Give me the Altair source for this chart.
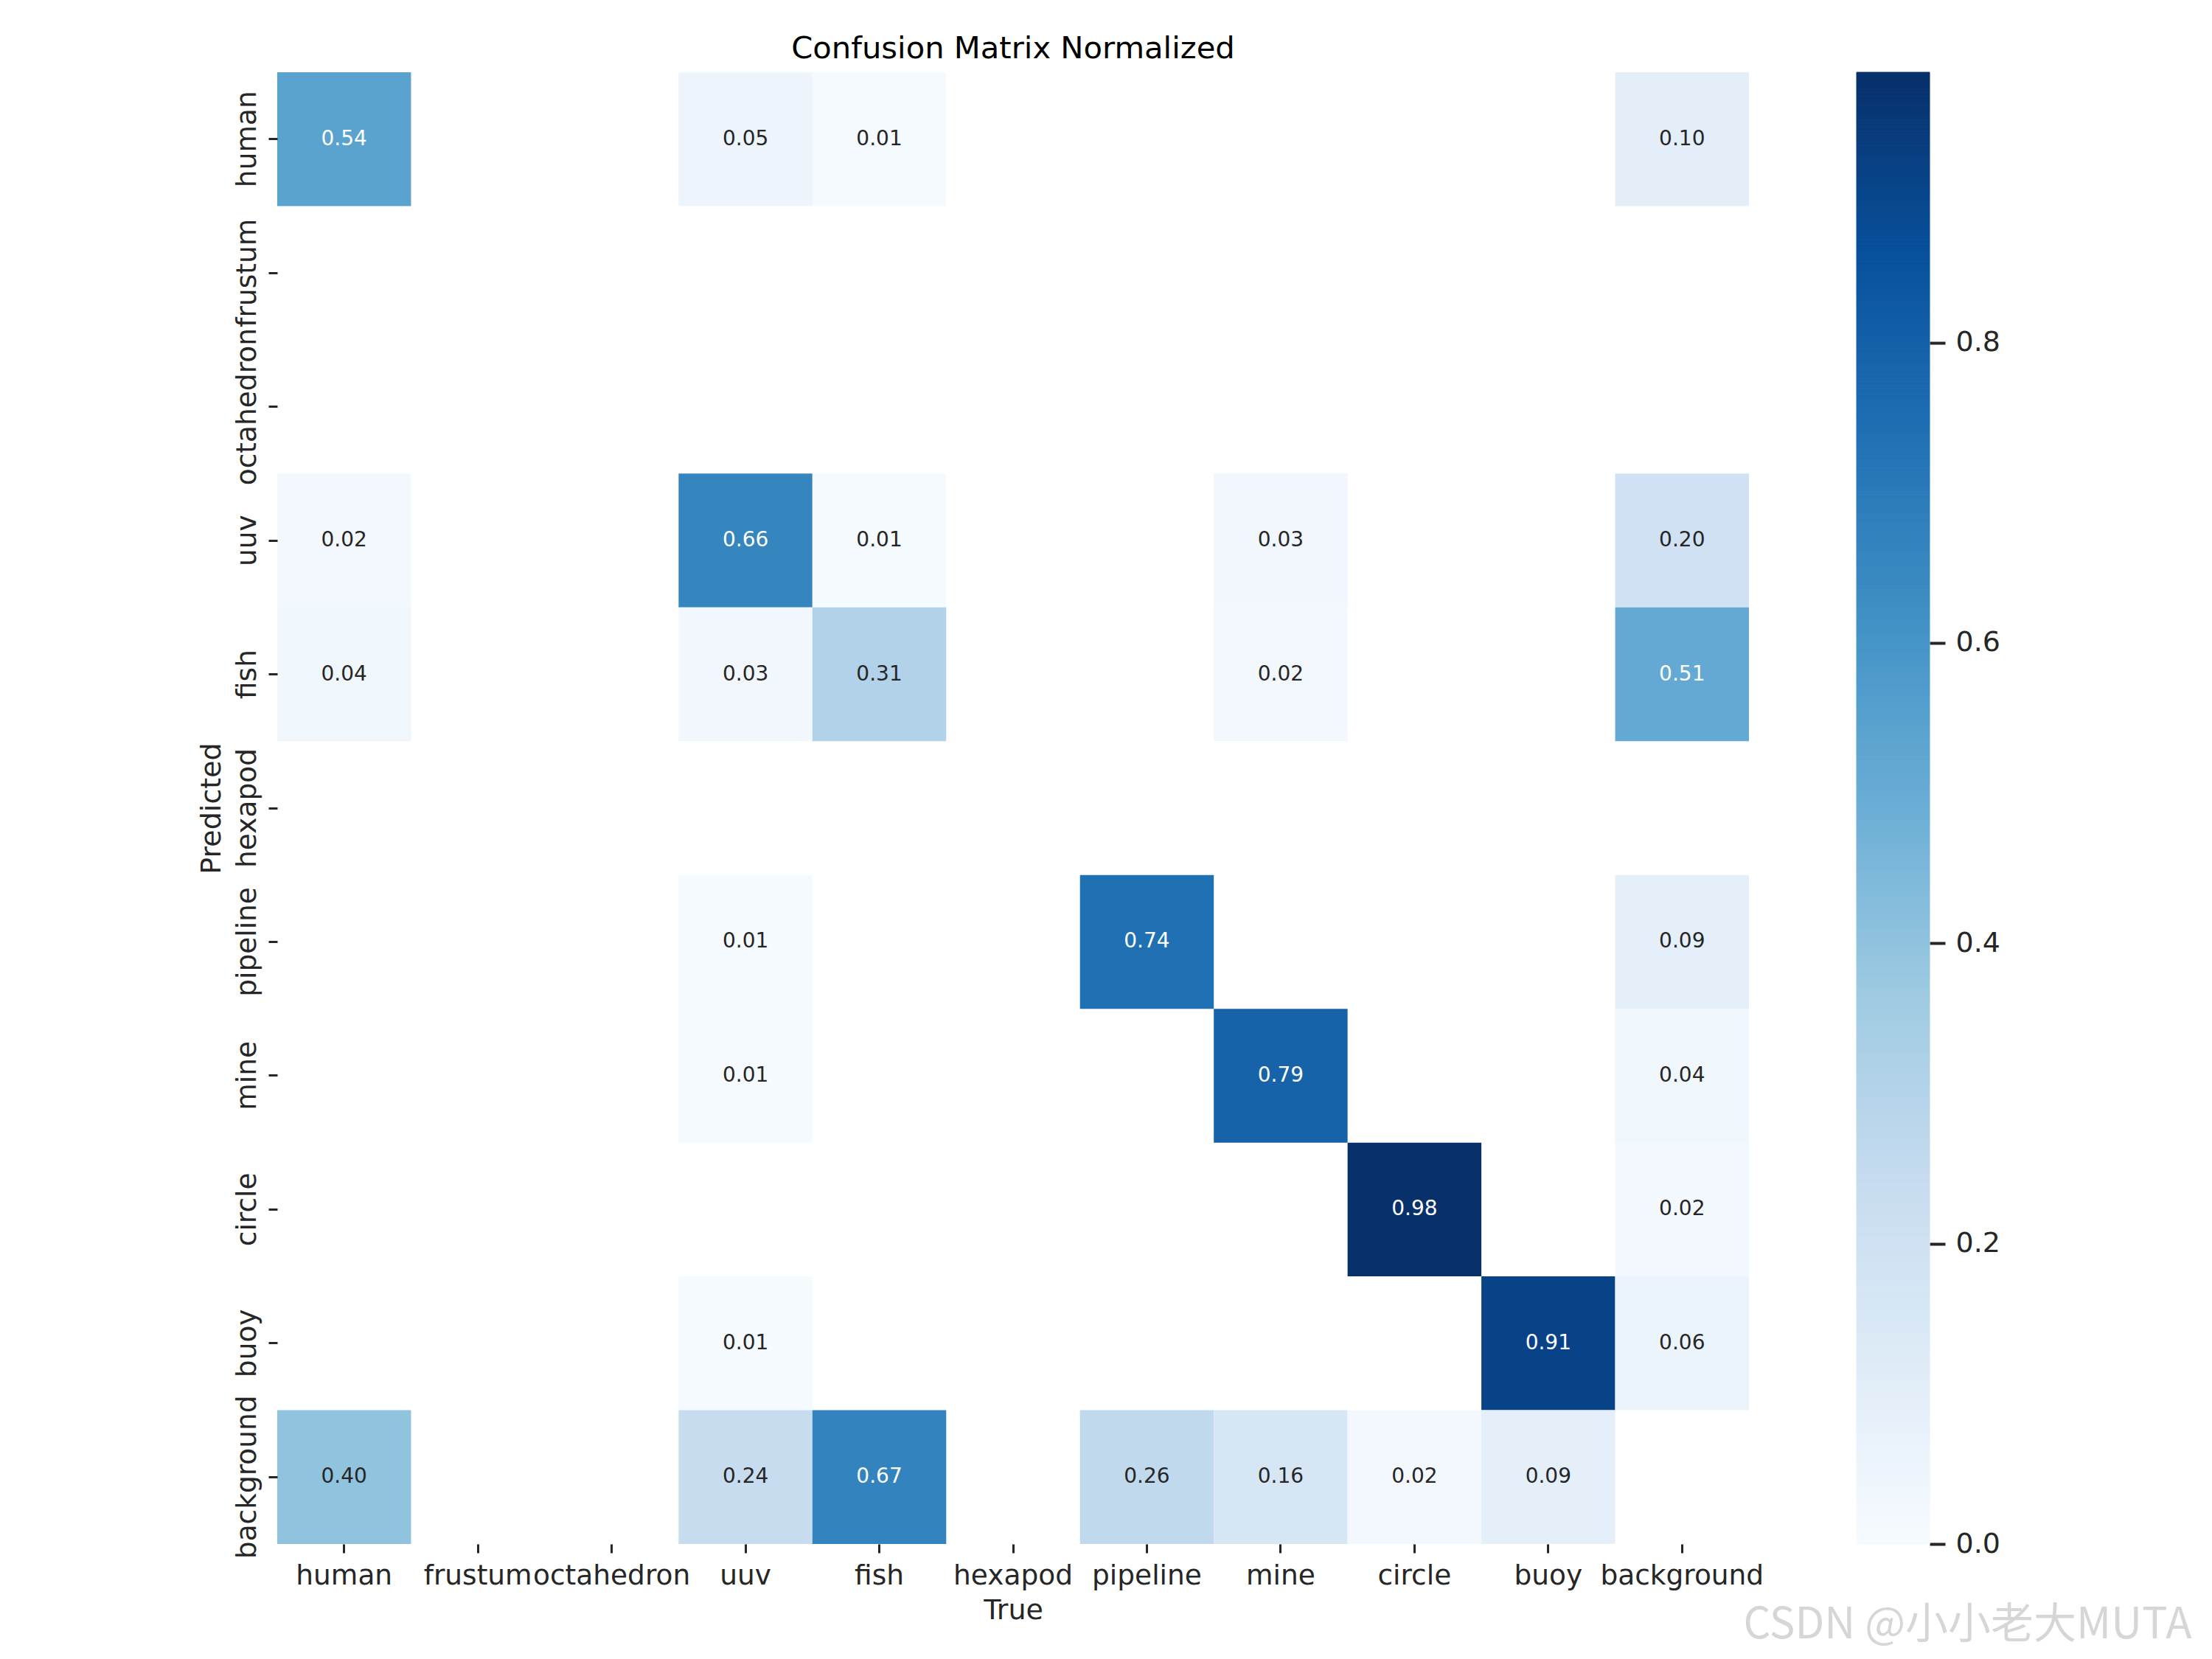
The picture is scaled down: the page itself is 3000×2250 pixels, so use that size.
import altair as alt
import numpy as np
import pandas as pd

# Class order (rows = predicted, columns = true)
classes = ["human", "frustum", "octahedron", "uuv", "fish", "hexapod",
           "pipeline", "mine", "circle", "buoy", "background"]

# Normalized confusion matrix; None = cell left blank
row_human      = [0.54, None, None, 0.05, 0.01, None, None, None, None, None, 0.10]
row_frustum    = [None, None, None, None, None, None, None, None, None, None, None]
row_octahedron = [None, None, None, None, None, None, None, None, None, None, None]
row_uuv        = [0.02, None, None, 0.66, 0.01, None, None, 0.03, None, None, 0.20]
row_fish       = [0.04, None, None, 0.03, 0.31, None, None, 0.02, None, None, 0.51]
row_hexapod    = [None, None, None, None, None, None, None, None, None, None, None]
row_pipeline   = [None, None, None, 0.01, None, None, 0.74, None, None, None, 0.09]
row_mine       = [None, None, None, 0.01, None, None, None, 0.79, None, None, 0.04]
row_circle     = [None, None, None, None, None, None, None, None, 0.98, None, 0.02]
row_buoy       = [None, None, None, 0.01, None, None, None, None, None, 0.91, 0.06]
row_background = [0.40, None, None, 0.24, 0.67, None, 0.26, 0.16, 0.02, 0.09, None]

# Colorbar tick values
cbar_ticks = [0.0, 0.2, 0.4, 0.6, 0.8]

# matplotlib "Blues" anchor colours
blues = ["#f7fbff", "#deebf7", "#c6dbef", "#9ecae1", "#6baed6",
         "#4292c6", "#2171b5", "#08519c", "#08306b"]

rows = [row_human, row_frustum, row_octahedron, row_uuv, row_fish, row_hexapod,
        row_pipeline, row_mine, row_circle, row_buoy, row_background]

records = []
for pred, row in zip(classes, rows):
    for true, v in zip(classes, row):
        if v is not None:
            records.append({"pred": pred, "true": true, "value": v,
                            "label": f"{v:.2f}"})
cells = pd.DataFrame(records)

vmax = float(cells["value"].max())
color_domain = [vmax * i / (len(blues) - 1) for i in range(len(blues))]
color_scale = alt.Scale(domain=color_domain, range=blues, type="linear",
                        interpolate="rgb", clamp=True)

FONT = "DejaVu Sans"
INK = "#262626"
SIDE = 1996
NO_FRAME = alt.ViewBackground(stroke="transparent", strokeWidth=0)

x_enc = alt.X("true:N", sort=classes,
              scale=alt.Scale(domain=classes, paddingInner=0, paddingOuter=0),
              axis=alt.Axis(title="True", labelAngle=0, domain=False, grid=False,
                            ticks=True, tickSize=12, tickWidth=3, tickColor=INK,
                            labelFont=FONT, labelFontSize=37.5, labelColor=INK,
                            labelPadding=12, labelOverlap=False, labelFlush=False,
                            labelLimit=0,
                            titleFont=FONT, titleFontSize=38, titleColor=INK,
                            titleFontWeight="normal", titlePadding=10))
y_enc = alt.Y("pred:N", sort=classes,
              scale=alt.Scale(domain=classes, paddingInner=0, paddingOuter=0),
              axis=alt.Axis(title="Predicted", labelAngle=270, labelAlign="center",
                            labelBaseline="bottom", domain=False, grid=False,
                            ticks=True, tickSize=12, tickWidth=3, tickColor=INK,
                            labelFont=FONT, labelFontSize=37.5, labelColor=INK,
                            labelPadding=10, labelOverlap=False, labelFlush=False,
                            labelLimit=0,
                            titleFont=FONT, titleFontSize=38, titleColor=INK,
                            titleFontWeight="normal", titlePadding=10))

base = alt.Chart(cells).encode(x=x_enc, y=y_enc)

heat = base.mark_rect(strokeWidth=0).encode(
    color=alt.Color("value:Q", scale=color_scale, legend=None)
)

annot = base.mark_text(font=FONT, fontSize=28, baseline="middle", align="center").encode(
    text="label:N",
    color=alt.condition(alt.datum.value > 0.45, alt.value("white"), alt.value(INK)),
)

matrix = alt.layer(heat, annot).properties(
    width=SIDE, height=SIDE, view=NO_FRAME,
    title=alt.TitleParams("Confusion Matrix Normalized", font=FONT, fontSize=41.7,
                          fontWeight="normal", color="black", offset=10,
                          anchor="middle"),
)

# Colorbar: thin stacked strips along the colour scale
steps = np.linspace(0.0, vmax, 401)
strips = pd.DataFrame({"v0": steps[:-1], "v1": steps[1:]})
strips["mid"] = (strips["v0"] + strips["v1"]) / 2

cbar = alt.Chart(strips).mark_rect(strokeWidth=1).encode(
    y=alt.Y("v0:Q", scale=alt.Scale(domain=[0, vmax], nice=False, zero=True),
            axis=alt.Axis(orient="right", values=cbar_ticks, format=".1f",
                          title=None, domain=False, grid=False, ticks=True,
                          tickSize=21, tickWidth=4, tickColor=INK,
                          labelFont=FONT, labelFontSize=38, labelColor=INK,
                          labelPadding=14, labelFlush=False, labelOverlap=False)),
    y2="v1:Q",
    color=alt.Color("mid:Q", scale=color_scale, legend=None),
    stroke=alt.Color("mid:Q", scale=color_scale, legend=None),
).properties(width=99, height=SIDE, view=NO_FRAME)

chart = alt.hconcat(matrix, cbar, spacing=146, bounds="flush").properties(
    padding={"left": 268, "top": 46, "right": 5, "bottom": 5},
    title=alt.TitleParams("CSDN @小小老大MUTA", orient="bottom", anchor="end",
                          font="Noto Sans CJK SC", fontSize=58, fontWeight="normal",
                          color="#d6d6d6", dx=260, offset=-28),
).configure_view(stroke="transparent", strokeWidth=0).configure(background="white")

chart.save("out.html", embed_options={"renderer": "svg", "actions": False})
